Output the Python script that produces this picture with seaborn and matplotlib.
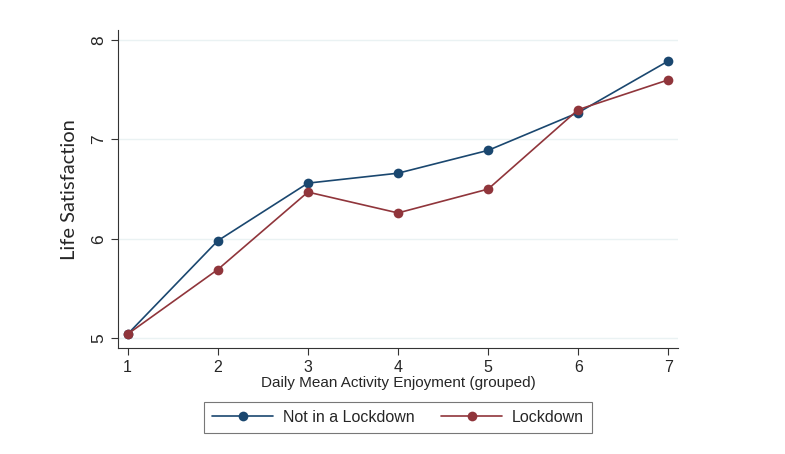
import pandas as pd
import matplotlib.pyplot as plt
import seaborn as sns

enjoyment = [1, 2, 3, 4, 5, 6, 7]
not_lockdown = [5.04, 5.98, 6.56, 6.66, 6.89, 7.27, 7.79]
lockdown = [5.04, 5.69, 6.47, 6.26, 6.50, 7.30, 7.60]

df = pd.DataFrame({
    "enjoyment": enjoyment * 2,
    "life_sat": not_lockdown + lockdown,
    "group": ["Not in a Lockdown"] * 7 + ["Lockdown"] * 7,
})

sns.set_style("white")
plt.rcParams['font.family'] = ['Arial', 'Liberation Sans', 'DejaVu Sans']

palette = {"Not in a Lockdown": "#1a476f", "Lockdown": "#90353b"}

fig = plt.figure(figsize=(7.85, 4.54), dpi=100)
ax = fig.add_axes([0.150, 0.2335, 0.714, 0.70])

sns.lineplot(data=df, x="enjoyment", y="life_sat", hue="group", palette=palette,
             marker="o", markersize=7, markeredgewidth=0, linewidth=1.2, ax=ax)

ax.set_xlim(0.89, 7.11)
ax.set_ylim(4.9, 8.1)
ax.set_yticks([5, 6, 7, 8])
ax.set_xticks(enjoyment)
for y in [5, 6, 7, 8]:
    ax.axhline(y, color="#eaf2f3", linewidth=1, zorder=0)
ax.tick_params(axis="both", direction="out", length=5, width=0.8, color="#333333",
               labelsize=11.5, bottom=True, left=True)
ax.tick_params(axis="y", labelsize=12.5)
for lab in ax.get_yticklabels():
    lab.set_rotation(90)
    lab.set_va("center")
sns.despine(ax=ax)
ax.spines["left"].set_color("#333333")
ax.spines["bottom"].set_color("#333333")
ax.set_xlabel("Daily Mean Activity Enjoyment (grouped)", fontsize=11, labelpad=1)
ax.set_ylabel("Life Satisfaction", fontsize=14.5, labelpad=9, family=["Lato", "DejaVu Sans"])

ax.legend(title=None, loc="upper center", bbox_to_anchor=(0.5, -0.145), ncol=2,
          frameon=True, fancybox=False, edgecolor="#555555", fontsize=11.5,
          handlelength=3.8, handletextpad=0.6, columnspacing=1.7, borderpad=0.5)
leg = ax.get_legend()
leg.get_frame().set_linewidth(0.8)

fig.savefig("out.png", dpi=100, facecolor="white")
